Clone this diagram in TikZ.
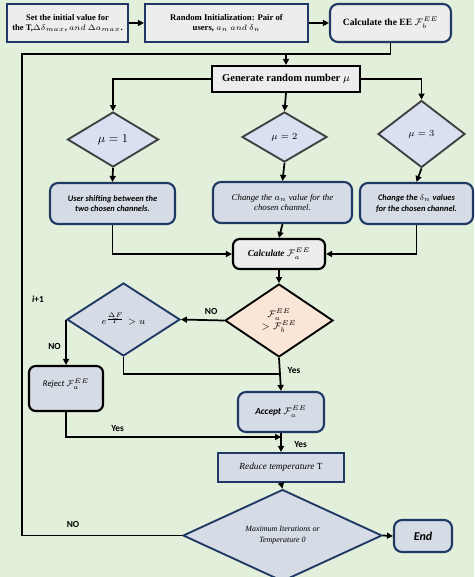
\documentclass[tikz,border=0pt]{standalone}
\usepackage{amsmath}
\usepackage{fontspec}
\setmainfont{Liberation Serif}
\newfontfamily\calfont{Carlito}
\usetikzlibrary{shapes.geometric, arrows.meta}

\definecolor{bggreen}{HTML}{E2EFDA}
\definecolor{navy}{HTML}{203864}
\definecolor{lightgray}{HTML}{EDEDED}
\definecolor{bluegray}{HTML}{D6DCE5}
\definecolor{lilac}{HTML}{D9E0F1}
\definecolor{peach}{HTML}{FBE5D6}

\begin{document}
\begin{tikzpicture}[x=0.75pt, y=-0.75pt,
    >={Triangle[length=4.5pt, width=4.5pt]},
    every path/.style={line width=1.3pt},
    box/.style={draw, rectangle, line width=1.6pt, align=center, inner sep=1pt},
    choice/.style={draw, diamond, line width=1.4pt, align=center, inner sep=0pt},
    tag/.style={font=\calfont\bfseries\fontsize{7}{8}\selectfont}]
    \fill[bggreen] (0,0) rectangle (474,577);
    \useasboundingbox (0,0) rectangle (474,577);

    \node[box, draw=navy, fill=lightgray,
          minimum width=121*0.75pt, minimum height=38*0.75pt,
          font=\bfseries\fontsize{6.4}{7.8}\selectfont]
        (init) at (67.5,23) {Set the initial value for\\the T,$\Delta\delta_{max}$, $and\ \Delta a_{max}$.};
    \node[box, draw=navy, fill=lightgray,
          minimum width=163*0.75pt, minimum height=38*0.75pt,
          font=\bfseries\fontsize{6.5}{7.8}\selectfont]
        (rinit) at (226.5,23) {Random Initialization: Pair of\\users, $a_n$ $and$ $\delta_n$};
    \node[box, draw=navy, fill=lightgray, rounded corners=6pt,
          minimum width=121*0.75pt, minimum height=38*0.75pt,
          font=\bfseries\fontsize{7.2}{8}\selectfont]
        (calcb) at (390.5,23) {Calculate the EE $\mathcal{F}_b^{EE}$};

    \node[box, fill=lightgray,
          minimum width=148*0.75pt, minimum height=26*0.75pt,
          font=\bfseries\fontsize{7.9}{9}\selectfont]
        (gen) at (286,79) {Generate random number $\mu$};

    \node[choice, draw=black!75, fill=lilac,
          minimum width=91*0.75pt, minimum height=55*0.75pt,
          font=\fontsize{9}{10}\selectfont] (mu1) at (113,139.5) {$\mu=1$};
    \node[choice, draw=black!75, fill=lilac,
          minimum width=85*0.75pt, minimum height=50*0.75pt,
          font=\fontsize{7.5}{9}\selectfont] (mu2) at (284.5,137) {$\mu=2$};
    \node[choice, draw=black!75, fill=lilac,
          minimum width=87*0.75pt, minimum height=67*0.75pt,
          font=\fontsize{7.5}{9}\selectfont] (mu3) at (421.5,134) {$\mu=3$};

    \node[box, draw=navy, fill=bluegray, rounded corners=6pt,
          minimum width=125*0.75pt, minimum height=41*0.75pt,
          font=\calfont\bfseries\itshape\fontsize{6.3}{8}\selectfont]
        (shift) at (112.5,203.5) {User shifting between the\\two chosen channels.};
    \node[box, draw=navy, fill=bluegray, rounded corners=6pt,
          minimum width=139*0.75pt, minimum height=41*0.75pt,
          font=\itshape\fontsize{6.6}{8}\selectfont]
        (chga) at (282.5,202.5) {Change the $a_n$ value for the\\chosen channel.};
    \node[box, draw=navy, fill=bluegray, rounded corners=6pt,
          minimum width=113*0.75pt, minimum height=41*0.75pt,
          font=\calfont\bfseries\itshape\fontsize{6.3}{8}\selectfont]
        (chgd) at (416.5,203.5) {Change the $\delta_n$ values\\for the chosen channel.};

    \node[box, fill=lightgray, rounded corners=5pt,
          minimum width=92*0.75pt, minimum height=30*0.75pt,
          font=\bfseries\itshape\fontsize{7}{8}\selectfont]
        (calca) at (279,254) {Calculate $\mathcal{F}_a^{EE}$};

    \node[choice, fill=peach,
          minimum width=108*0.75pt, minimum height=73*0.75pt,
          font=\fontsize{7}{9}\selectfont]
        (cmp) at (279,320.5) {$\mathcal{F}_a^{EE}$\\$>\mathcal{F}_b^{EE}$};
    \node[choice, draw=navy, fill=bluegray,
          minimum width=113*0.75pt, minimum height=73*0.75pt,
          font=\fontsize{7}{8}\selectfont]
        (prob) at (123.5,319.5) {$e^{\frac{\Delta F}{T}}>u$};

    \node[box, fill=bluegray, rounded corners=5pt, text depth=9pt,
          minimum width=74*0.75pt, minimum height=45*0.75pt,
          font=\calfont\itshape\fontsize{6.5}{8}\selectfont]
        (reject) at (66,388.5) {Reject $\mathcal{F}_a^{EE}$};
    \node[box, draw=navy, fill=bluegray, rounded corners=6pt,
          minimum width=86*0.75pt, minimum height=40*0.75pt,
          font=\calfont\bfseries\itshape\fontsize{7}{8}\selectfont]
        (accept) at (281,412) {Accept $\mathcal{F}_a^{EE}$};
    \node[box, draw=navy, fill=bluegray,
          minimum width=126*0.75pt, minimum height=29*0.75pt,
          font=\itshape\fontsize{7}{8}\selectfont]
        (reduce) at (281,467.5) {Reduce temperature \textup{T}};

    \node[choice, draw=navy, fill=bluegray,
          minimum width=199*0.75pt, minimum height=73*0.75pt,
          font=\itshape\fontsize{6}{8}\selectfont]
        (maxit) at (282.5,535.5) {Maximum Iterations or\\Temperature 0};
    \node[box, draw=navy, fill=bluegray, rounded corners=6pt,
          minimum width=58*0.75pt, minimum height=32*0.75pt,
          font=\calfont\bfseries\itshape\fontsize{9}{10}\selectfont]
        (end) at (423,536) {End};

    \node[tag] (iter) at (38,299) {\textit{i}+1};

    \coordinate (top) at (286,54);
    \coordinate (left) at (22,54);
    \coordinate (join1) at (279,374);
    \coordinate (join2) at (281,437);

    % top row
    \path[draw, ->] (init) edge (rinit);
    \path[draw, ->] (rinit) edge (calcb);
    \path[draw, ->] (calcb.south) |- (top) -- (gen.north);
    \path[draw] (maxit.west) -| (left) -- (top);
    \node[tag] at (73,524) {NO};

    % branches
    \path[draw, ->] (gen.west) -| (mu1.north);
    \path[draw, ->] (gen.south) -- (mu2.north);
    \path[draw, ->] (gen.east) -| (mu3.north);
    \path[draw, ->] (mu1.south) -- (shift.north);
    \path[draw, ->] (mu2.south) -- (chga.north);
    \path[draw, ->] (mu3.south) -- (chgd.north);
    \path[draw, ->] (shift.south) |- (calca.west);
    \path[draw, ->] (chga.south) -- (calca.north);
    \path[draw, ->] (chgd.south) |- (calca.east);
    \path[draw, ->] (calca.south) -- (cmp.north);

    % acceptance
    \path[draw, ->] (cmp.west) -- node[tag, above, pos=0.3] {NO} (prob.east);
    \path[draw, ->] (prob.west) -- node[tag, left, pos=0.6] {NO} (prob.west |- reject.north);
    \path[draw] (prob.south) |- (join1);
    \path[draw, ->] (cmp.south) -- node[tag, right, pos=0.38, xshift=2pt] {Yes} (accept.north);
    \path[draw, ->] (reject.south) |- node[tag, above, pos=0.62] {Yes} (join2);
    \path[draw, ->] (accept.south) -- node[tag, right, pos=0.6, xshift=6pt] {Yes} (reduce.north);
    \path[draw, ->] (reduce.south) -- (maxit.north);
    \path[draw, ->] (maxit.east) -- (end.west);
\end{tikzpicture}
\end{document}
